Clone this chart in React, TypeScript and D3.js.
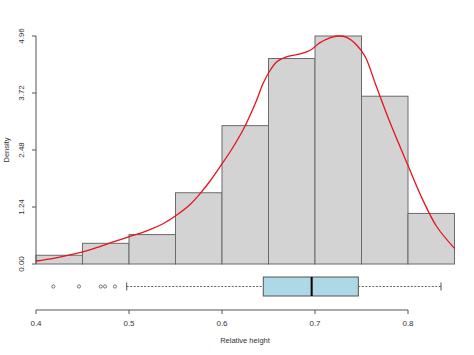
import React from "react";
import * as d3 from "d3";

// Histogram (bin edges and densities)
const binEdges = [0.4, 0.45, 0.5, 0.55, 0.6, 0.65, 0.7, 0.75, 0.8, 0.85];
const densities = [0.19, 0.45, 0.64, 1.55, 3.01, 4.47, 4.96, 3.65, 1.1];

// Kernel density curve
const kdeX = [0.4, 0.42, 0.447, 0.465, 0.483, 0.501, 0.519, 0.537, 0.551, 0.566, 0.576, 0.587, 0.598, 0.61, 0.623, 0.637, 0.644, 0.652, 0.659, 0.67, 0.684, 0.695, 0.705, 0.716, 0.725, 0.734, 0.745, 0.754, 0.766, 0.781, 0.799, 0.816, 0.831, 0.85];
const kdeY = [0.065, 0.13, 0.246, 0.355, 0.48, 0.6, 0.72, 0.88, 1.06, 1.3, 1.52, 1.8, 2.12, 2.48, 2.93, 3.55, 3.92, 4.22, 4.4, 4.51, 4.57, 4.65, 4.81, 4.92, 4.96, 4.93, 4.76, 4.51, 3.86, 3.06, 2.19, 1.39, 0.81, 0.34];

// Boxplot summary
const boxStats = { lowerWhisker: 0.4975, q1: 0.6444, median: 0.6964, q3: 0.7466, upperWhisker: 0.8355 };
const outliers = [0.4186, 0.4462, 0.4696, 0.4742, 0.4849];

// Axes
const yTicks = [0, 1.24, 2.48, 3.72, 4.96];
const yTickLabels = ["0.00", "1.24", "2.48", "3.72", "4.96"];
const xTicks = [0.4, 0.5, 0.6, 0.7, 0.8];
const xTickLabels = ["0.4", "0.5", "0.6", "0.7", "0.8"];

export default function App() {
  const W = 474, H = 355;
  const x = d3.scaleLinear().domain([0.4, 0.8]).range([36, 408]);
  const y = d3.scaleLinear().domain([0, 4.96]).range([264, 36]);
  const line = d3
    .line<number>()
    .x((_, i) => x(kdeX[i]))
    .y((d) => y(d))
    .curve(d3.curveCatmullRom.alpha(0.5));
  const boxY = 286.5;
  const boxH = 19;
  const font = "'Liberation Sans', Arial, sans-serif";
  const axisCol = "#555";
  const textCol = "#333";

  return (
    <svg
      width={W}
      height={H}
      style={{ position: "absolute", left: 0, top: 0, background: "#fff" }}
      fontFamily={font}
    >
      {/* histogram bars */}
      {densities.map((d, i) => (
        <rect
          key={i}
          x={x(binEdges[i])}
          y={y(d)}
          width={x(binEdges[i + 1]) - x(binEdges[i])}
          height={y(0) - y(d)}
          fill="#d3d3d3"
          stroke="#6b6b6b"
          strokeWidth={1}
        />
      ))}
      {/* density curve */}
      <path d={line(kdeY) || ""} fill="none" stroke="#e8121e" strokeWidth={1.3} />

      {/* y axis */}
      <line x1={36} x2={36} y1={y(0)} y2={y(4.96)} stroke={axisCol} />
      {yTicks.map((t, i) => (
        <g key={i}>
          <line x1={32} x2={36} y1={y(t)} y2={y(t)} stroke={axisCol} />
          <text
            transform={`translate(24,${y(t)}) rotate(-90)`}
            textAnchor="middle"
            fontSize={8}
            fill={textCol}
          >
            {yTickLabels[i]}
          </text>
        </g>
      ))}
      <text
        transform={`translate(9,${y(2.48)}) rotate(-90)`}
        textAnchor="middle"
        fontSize={7.5}
        fill={textCol}
      >
        Density
      </text>

      {/* boxplot */}
      <line
        x1={x(boxStats.lowerWhisker)}
        x2={x(boxStats.q1)}
        y1={boxY}
        y2={boxY}
        stroke="#666"
        strokeDasharray="2,1.5"
      />
      <line
        x1={x(boxStats.q3)}
        x2={x(boxStats.upperWhisker)}
        y1={boxY}
        y2={boxY}
        stroke="#666"
        strokeDasharray="2,1.5"
      />
      <line x1={x(boxStats.lowerWhisker)} x2={x(boxStats.lowerWhisker)} y1={boxY - 4} y2={boxY + 4} stroke="#555" />
      <line x1={x(boxStats.upperWhisker)} x2={x(boxStats.upperWhisker)} y1={boxY - 4} y2={boxY + 4} stroke="#555" />
      <rect
        x={x(boxStats.q1)}
        y={boxY - boxH / 2}
        width={x(boxStats.q3) - x(boxStats.q1)}
        height={boxH}
        fill="#add8e6"
        stroke="#555"
      />
      <line
        x1={x(boxStats.median)}
        x2={x(boxStats.median)}
        y1={boxY - boxH / 2}
        y2={boxY + boxH / 2}
        stroke="#000"
        strokeWidth={2}
      />
      {outliers.map((o, i) => (
        <circle key={i} cx={x(o)} cy={boxY} r={1.6} fill="none" stroke="#555" strokeWidth={0.8} />
      ))}

      {/* x axis */}
      <line x1={x(0.4)} x2={x(0.8)} y1={310} y2={310} stroke={axisCol} />
      {xTicks.map((t, i) => (
        <g key={i}>
          <line x1={x(t)} x2={x(t)} y1={310} y2={314} stroke={axisCol} />
          <text x={x(t)} y={326} textAnchor="middle" fontSize={8} fill={textCol}>
            {xTickLabels[i]}
          </text>
        </g>
      ))}
      <text x={245} y={343} textAnchor="middle" fontSize={7.5} fill={textCol}>
        Relative height
      </text>
    </svg>
  );
}
